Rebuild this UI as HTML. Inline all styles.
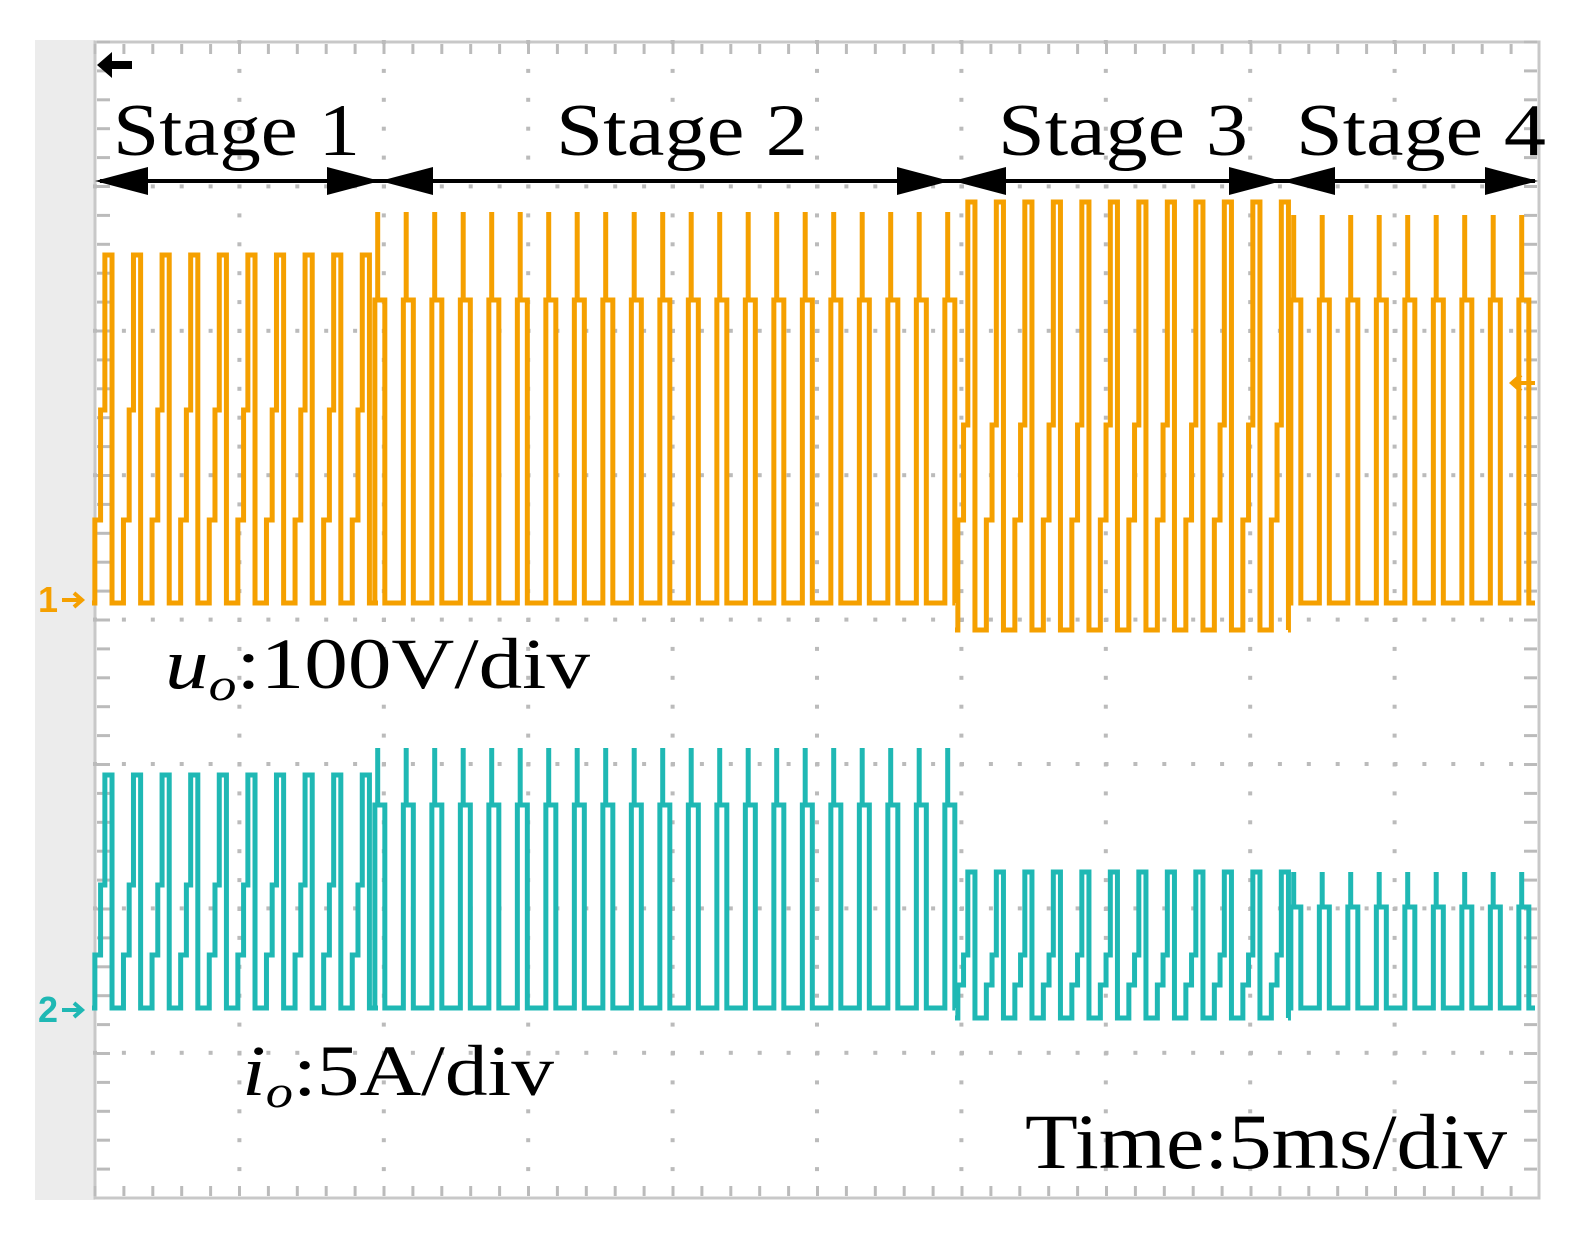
<!DOCTYPE html>
<html><head><meta charset="utf-8"><style>
html,body{margin:0;padding:0;background:#fff;}
svg{display:block;}
text{font-family:"Liberation Serif",serif;fill:#000;}
</style></head><body>
<svg id="s" width="1574" height="1237" viewBox="0 0 1574 1237" xmlns="http://www.w3.org/2000/svg">
<rect x="35" y="40" width="60" height="1160" fill="#ececec"/>
<rect x="95" y="42" width="1444" height="1156" fill="#fff" stroke="#c8c8c8" stroke-width="3"/>
<g id="grid"></g>
<g id="wave" fill="none" stroke-linejoin="miter" stroke-width="5"></g>
<path d="M97 65 L112 52 L112 61 L132 61 L132 69 L112 69 L112 78 Z" fill="#000"/>
<text x="113" y="155" font-size="74" textLength="247" lengthAdjust="spacingAndGlyphs">Stage 1</text>
<text x="556" y="155" font-size="74" textLength="252" lengthAdjust="spacingAndGlyphs">Stage 2</text>
<text x="998" y="155" font-size="74" textLength="250" lengthAdjust="spacingAndGlyphs">Stage 3</text>
<text x="1296" y="155" font-size="74" textLength="250" lengthAdjust="spacingAndGlyphs">Stage 4</text>
<g stroke="#000" stroke-width="4"><line x1="100" y1="181" x2="1535" y2="181"/></g>
<g fill="#000">
<path d="M95 181 L148 167 L148 195Z"/><path d="M380 181 L327 167 L327 195Z"/>
<path d="M380 181 L433 167 L433 195Z"/><path d="M950 181 L897 167 L897 195Z"/>
<path d="M953 181 L1006 167 L1006 195Z"/><path d="M1282 181 L1229 167 L1229 195Z"/>
<path d="M1282 181 L1335 167 L1335 195Z"/><path d="M1538 181 L1485 167 L1485 195Z"/>
</g>
<text x="165" y="688" font-size="72" font-style="italic" textLength="425" lengthAdjust="spacingAndGlyphs">u<tspan font-size="46" dy="12">o</tspan><tspan font-style="normal" dy="-12">:100V/div</tspan></text>
<text x="242" y="1095" font-size="72" font-style="italic" textLength="312" lengthAdjust="spacingAndGlyphs">i<tspan font-size="46" dy="12">o</tspan><tspan font-style="normal" dy="-12">:5A/div</tspan></text>
<text x="1025" y="1168" font-size="78" textLength="482" lengthAdjust="spacingAndGlyphs">Time:5ms/div</text>
<text x="38" y="612" font-size="36" style="font-family:'Liberation Sans',sans-serif;fill:#f5a000;font-weight:bold">1</text>
<path d="M62 600 L82 600 M74 593 L82 600 L74 607" stroke="#f5a000" stroke-width="4" fill="none"/>
<text x="38" y="1022" font-size="36" style="font-family:'Liberation Sans',sans-serif;fill:#1fb8b4;font-weight:bold">2</text>
<path d="M62 1010 L82 1010 M74 1003 L82 1010 L74 1017" stroke="#1fb8b4" stroke-width="4" fill="none"/>
<path d="M1535 383 L1512 383 M1521 375 L1512 383 L1521 391" stroke="#f5a000" stroke-width="4" fill="none"/>
</svg>
<script>
var g=document.getElementById('grid'),w=document.getElementById('wave');
var h='';var X0=95,Y0=42,D=144.4;
for(var i=1;i<10;i++){var x=X0+i*D;for(var y=Y0;y<1197;y+=28.9)h+='<rect x="'+(x-2)+'" y="'+(y-2)+'" width="4" height="4" fill="#bbb"/>';}
for(var j=1;j<8;j++){var y=Y0+j*D;for(var x=X0;x<1539;x+=28.9)h+='<rect x="'+(x-2)+'" y="'+(y-2)+'" width="4" height="4" fill="#bbb"/>';}
for(var x=X0;x<1539;x+=28.9){h+='<line x1="'+x+'" y1="44" x2="'+x+'" y2="54" stroke="#bbb" stroke-width="3"/><line x1="'+x+'" y1="1186" x2="'+x+'" y2="1196" stroke="#bbb" stroke-width="3"/>';}
for(var y=Y0;y<1197;y+=28.9){h+='<line x1="97" y1="'+y+'" x2="110" y2="'+y+'" stroke="#bbb" stroke-width="3"/><line x1="1524" y1="'+y+'" x2="1537" y2="'+y+'" stroke="#bbb" stroke-width="3"/>';}
g.innerHTML=h;
function stepped(a,b,P,top,m1,m2,base){var d='M'+a+' '+base;for(var x=a;x<b-2;x+=P){d+=' H'+(x+0.1*P)+' V'+m2+' H'+(x+0.3*P)+' V'+m1+' H'+(x+0.45*P)+' V'+top+' H'+(x+0.7*P)+' V'+base+' H'+Math.min(x+P,b);}return d;}
function spiky(a,b,P,spike,plat,base){var d='M'+a+' '+base;for(var x=a;x<b-2;x+=P){d+=' H'+(x+0.1*P)+' V'+plat+' H'+(x+0.2*P)+' V'+spike+' V'+plat+' H'+(x+0.45*P)+' V'+base+' H'+Math.min(x+P,b);}return d;}
var O='#f5a000',T='#1fb8b4',p='';
p+='<path stroke="'+O+'" d="'+stepped(92,378,28.6,255,410,520,603)+'"/>';
p+='<path stroke="'+O+'" d="'+spiky(372,955,28.5,212,300,603)+'"/>';
p+='<path stroke="'+O+'" d="'+stepped(955,1288,28.5,202,425,520,630)+'"/>';
p+='<path stroke="'+O+'" d="'+spiky(1288,1535,28.5,215,300,603)+'"/>';
p+='<path stroke="'+T+'" d="'+stepped(92,378,28.6,775,885,955,1008)+'"/>';
p+='<path stroke="'+T+'" d="'+spiky(372,955,28.5,748,805,1008)+'"/>';
p+='<path stroke="'+T+'" d="'+stepped(955,1288,28.5,872,955,985,1018)+'"/>';
p+='<path stroke="'+T+'" d="'+spiky(1288,1535,28.5,872,907,1008)+'"/>';
w.innerHTML=p;
</script>
</body></html>
